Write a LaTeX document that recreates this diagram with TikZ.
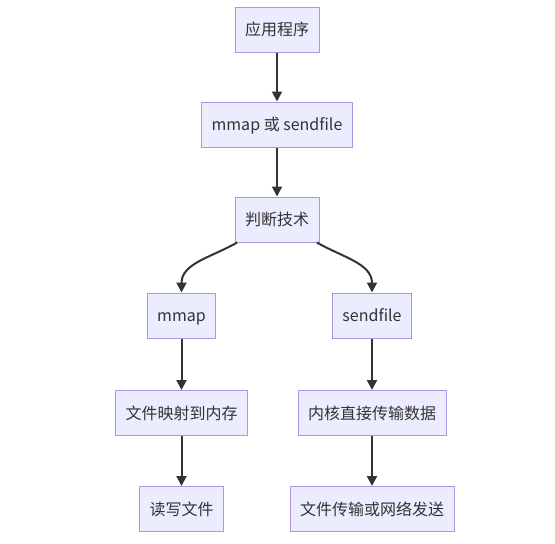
\documentclass[tikz,border=0pt]{standalone}
\usepackage{fontspec}
\setmainfont{Noto Sans CJK SC}
\usetikzlibrary{arrows.meta}

\definecolor{boxfill}{HTML}{ECECFF}
\definecolor{boxline}{HTML}{AE96E4}
\definecolor{edgecol}{HTML}{333333}

\tikzset{
    box/.style={draw=boxline, fill=boxfill, line width=1pt, minimum height=45pt,
        inner xsep=10pt, text height=16pt, text depth=4pt, text=edgecol,
        font=\fontsize{16pt}{19pt}\selectfont},
    edge/.style={draw=edgecol, line width=2pt, -{Triangle[length=10pt,width=10pt]}},
}

\begin{document}
\begin{tikzpicture}[x=1pt,y=1pt]
    \pgfmathsetmacro{\xm}{277}
    \pgfmathsetmacro{\xl}{181.5}
    \pgfmathsetmacro{\xr}{372}

    \useasboundingbox (0,0) rectangle (555,-544);

    % main column
    \node[box] (app) at (\xm,-29.5) {应用程序};
    \node[box] (call) at (\xm,-124.5) {mmap 或 sendfile};
    \node[box] (pick) at (\xm,-219.5) {判断技术};

    % left branch
    \node[box] (mmap) at (\xl,-315.5) {mmap};
    \node[box] (map) at (\xl,-413) {文件映射到内存};
    \node[box] (rw) at (\xl,-509) {读写文件};

    % right branch
    \node[box] (send) at (\xr,-315.5) {sendfile};
    \node[box] (kern) at (\xr,-413) {内核直接传输数据};
    \node[box] (net) at (\xr,-509) {文件传输或网络发送};

    % edges
    \draw[edge] (app) -- (call);
    \draw[edge] (call) -- (pick);
    \draw[edge] (pick) to[out=210,in=90] (mmap);
    \draw[edge] (pick) to[out=-30,in=90] (send);
    \draw[edge] (mmap) -- (map);
    \draw[edge] (map) -- (rw);
    \draw[edge] (send) -- (kern);
    \draw[edge] (kern) -- (net);
\end{tikzpicture}
\end{document}
